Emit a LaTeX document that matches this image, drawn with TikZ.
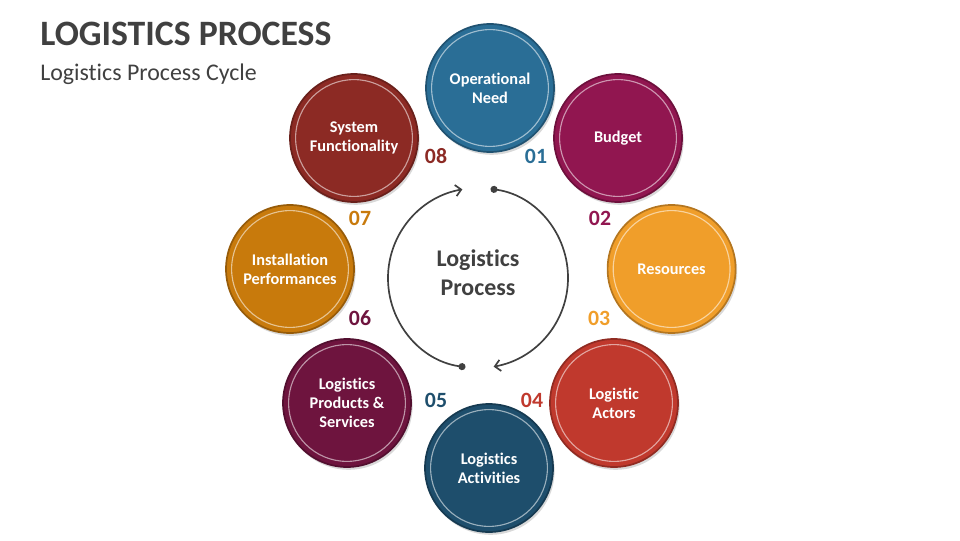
\documentclass[tikz,border=0pt]{standalone}
\usepackage{fontspec}
\setmainfont{Carlito}[Ligatures=NoCommon]
\usetikzlibrary{arrows.meta, shadows}

\definecolor{cneed}{RGB}{42,110,150}
\definecolor{cbudget}{RGB}{145,22,80}
\definecolor{cres}{RGB}{240,158,42}
\definecolor{cactor}{RGB}{192,57,45}
\definecolor{cactiv}{RGB}{30,78,108}
\definecolor{cprod}{RGB}{110,20,62}
\definecolor{cinst}{RGB}{200,122,12}
\definecolor{csys}{RGB}{140,42,36}
\definecolor{textgrey}{RGB}{64,64,64}

\tikzset{
  stage/.style={circle, minimum size=3.2cm, inner sep=0pt, line width=1.2pt,
    align=center, text=white, font=\bfseries\fontsize{11.6}{13.6}\selectfont,
    drop shadow={shadow xshift=0.04cm, shadow yshift=-0.07cm, opacity=0.3}},
  ring/.style={draw=white, opacity=0.55, line width=0.8pt},
  stepnum/.style={font=\bfseries\fontsize{15.5}{16}\selectfont},
  cyclearc/.style={draw=textgrey, line width=1.2pt}
}

\begin{document}
\begin{tikzpicture}
        \useasboundingbox (0,0) rectangle (24,13.5);
        % Title
        \node[anchor=base west, inner sep=0pt, text=textgrey, font=\bfseries\fontsize{25.4}{27}\selectfont] (title) at (1.0,12.35) {LOGISTICS PROCESS};
        \node[anchor=base west, inner sep=0pt, text=textgrey, font=\fontsize{17}{19}\selectfont] (subtitle) at (1.0,11.475) {Logistics Process Cycle};
        % Stages
        \node[stage, fill=cneed, draw=cneed!75!black] (need) at (12.25,11.3) {Operational\\Need};
        \node[stage, fill=cbudget, draw=cbudget!75!black] (budget) at (15.45,10.05) {Budget};
        \node[stage, fill=cres, draw=cres!75!black] (res) at (16.79,6.775) {Resources};
        \node[stage, fill=cactor, draw=cactor!75!black] (actor) at (15.35,3.425) {Logistic\\Actors};
        \node[stage, fill=cactiv, draw=cactiv!75!black] (activ) at (12.225,1.8) {Logistics\\Activities};
        \node[stage, fill=cprod, draw=cprod!75!black] (prod) at (8.675,3.425) {Logistics\\Products \&\\Services};
        \node[stage, fill=cinst, draw=cinst!75!black] (inst) at (7.25,6.775) {Installation\\Performances};
        \node[stage, fill=csys, draw=csys!75!black] (sys) at (8.85,10.05) {System\\Functionality};
        % Inner rings
        \draw[ring] (need.center) circle (1.46);
        \draw[ring] (budget.center) circle (1.46);
        \draw[ring] (res.center) circle (1.46);
        \draw[ring] (actor.center) circle (1.46);
        \draw[ring] (activ.center) circle (1.46);
        \draw[ring] (prod.center) circle (1.46);
        \draw[ring] (inst.center) circle (1.46);
        \draw[ring] (sys.center) circle (1.46);
        % Numbers
        \node[stepnum, text=cneed] (n1) at (13.4,9.6) {01};
        \node[stepnum, text=cbudget] (n2) at (15.0,8.05) {02};
        \node[stepnum, text=cres] (n3) at (14.98,5.53) {03};
        \node[stepnum, text=cactor] (n4) at (13.3,3.5) {04};
        \node[stepnum, text=cactiv] (n5) at (10.9,3.5) {05};
        \node[stepnum, text=cprod] (n6) at (9.0,5.55) {06};
        \node[stepnum, text=cinst] (n7) at (9.0,8.05) {07};
        \node[stepnum, text=csys] (n8) at (10.9,9.6) {08};
        % Centre
        \node[text=textgrey, align=center, font=\bfseries\fontsize{17}{20.5}\selectfont] (hub) at (11.95,6.68) {Logistics\\Process};
        \coordinate (hubc) at (11.95,6.55);
        \draw[cyclearc, {Circle[length=5pt]}-{Straight Barb[length=4pt, width=8pt]}] (hubc) ++(82:2.25) arc (82:-80:2.25);
        \draw[cyclearc, {Circle[length=5pt]}-{Straight Barb[length=4pt, width=8pt]}] (hubc) ++(262:2.25) arc (262:100:2.25);
\end{tikzpicture}
\end{document}
